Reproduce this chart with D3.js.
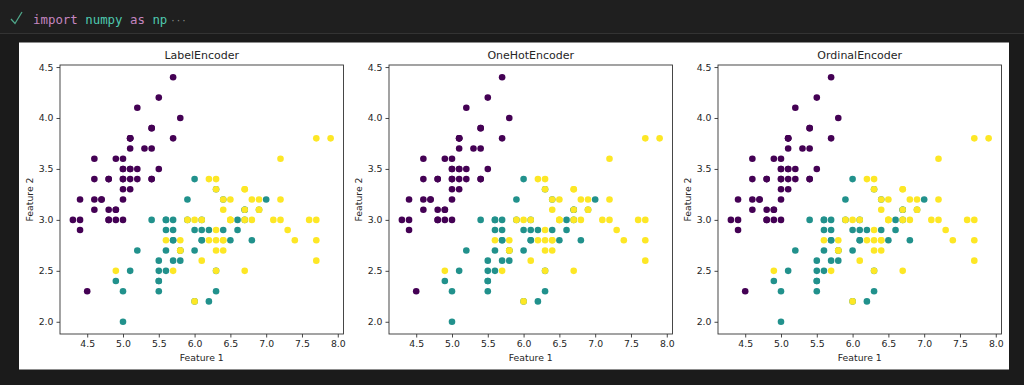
<!DOCTYPE html>
<html>
<head>
<meta charset="utf-8">
<script src="https://cdn.jsdelivr.net/npm/d3@7"></script>
<style>
  html, body { margin: 0; padding: 0; background: #1e1e1e; }
  svg { display: block; }
</style>
</head>
<body>
<svg id="chart" width="1024" height="385"></svg>
<script>
// Iris sepal length / sepal width, by class (0 setosa, 1 versicolor, 2 virginica)
const sepalLength = [
  5.1,4.9,4.7,4.6,5.0,5.4,4.6,5.0,4.4,4.9,5.4,4.8,4.8,4.3,5.8,5.7,5.4,5.1,5.7,5.1,5.4,5.1,4.6,5.1,4.8,5.0,5.0,5.2,5.2,4.7,4.8,5.4,5.2,5.5,4.9,5.0,5.5,4.9,4.4,5.1,5.0,4.5,4.4,5.0,5.1,4.8,5.1,4.6,5.3,5.0,
  7.0,6.4,6.9,5.5,6.5,5.7,6.3,4.9,6.6,5.2,5.0,5.9,6.0,6.1,5.6,6.7,5.6,5.8,6.2,5.6,5.9,6.1,6.3,6.1,6.4,6.6,6.8,6.7,6.0,5.7,5.5,5.5,5.8,6.0,5.4,6.0,6.7,6.3,5.6,5.5,5.5,6.1,5.8,5.0,5.6,5.7,5.7,6.2,5.1,5.7,
  6.3,5.8,7.1,6.3,6.5,7.6,4.9,7.3,6.7,7.2,6.5,6.4,6.8,5.7,5.8,6.4,6.5,7.7,7.7,6.0,6.9,5.6,7.7,6.3,6.7,7.2,6.2,6.1,6.4,7.2,7.4,7.9,6.4,6.3,6.1,7.7,6.3,6.4,6.0,6.9,6.7,6.9,5.8,6.8,6.7,6.7,6.3,6.5,6.2,5.9
];
const sepalWidth = [
  3.5,3.0,3.2,3.1,3.6,3.9,3.4,3.4,2.9,3.1,3.7,3.4,3.0,3.0,4.0,4.4,3.9,3.5,3.8,3.8,3.4,3.7,3.6,3.3,3.4,3.0,3.4,3.5,3.4,3.2,3.1,3.4,4.1,4.2,3.1,3.2,3.5,3.6,3.0,3.4,3.5,2.3,3.2,3.5,3.8,3.0,3.8,3.2,3.7,3.3,
  3.2,3.2,3.1,2.3,2.8,2.8,3.3,2.4,2.9,2.7,2.0,3.0,2.2,2.9,2.9,3.1,3.0,2.7,2.2,2.5,3.2,2.8,2.5,2.8,2.9,3.0,2.8,3.0,2.9,2.6,2.4,2.4,2.7,2.7,3.0,3.4,3.1,2.3,3.0,2.5,2.6,3.0,2.6,2.3,2.7,3.0,2.9,2.9,2.5,2.8,
  3.3,2.7,3.0,2.9,3.0,3.0,2.5,2.9,2.5,3.6,3.2,2.7,3.0,2.5,2.8,3.2,3.0,3.8,2.6,2.2,3.2,2.8,2.8,2.7,3.3,3.2,2.8,3.0,2.8,3.0,2.8,3.8,2.8,2.8,2.6,3.0,3.4,3.1,3.0,3.1,3.1,3.1,2.7,3.2,3.3,3.0,2.5,3.0,3.4,3.0
];
const classes = [
  0,0,0,0,0,0,0,0,0,0,0,0,0,0,0,0,0,0,0,0,0,0,0,0,0,0,0,0,0,0,0,0,0,0,0,0,0,0,0,0,0,0,0,0,0,0,0,0,0,0,
  1,1,1,1,1,1,1,1,1,1,1,1,1,1,1,1,1,1,1,1,1,1,1,1,1,1,1,1,1,1,1,1,1,1,1,1,1,1,1,1,1,1,1,1,1,1,1,1,1,1,
  2,2,2,2,2,2,2,2,2,2,2,2,2,2,2,2,2,2,2,2,2,2,2,2,2,2,2,2,2,2,2,2,2,2,2,2,2,2,2,2,2,2,2,2,2,2,2,2,2,2
];
const panelTitles = ["LabelEncoder", "OneHotEncoder", "OrdinalEncoder"];
const xTicks = [4.5,5.0,5.5,6.0,6.5,7.0,7.5,8.0];
const yTicks = [2.0,2.5,3.0,3.5,4.0,4.5];
const xLabel = "Feature 1";
const yLabel = "Feature 2";
const classColors = ["#440154", "#21918c", "#fde725"];

const svg = d3.select("#chart");

// notebook chrome
svg.append("rect").attr("x",0).attr("y",0).attr("width",1024).attr("height",385).attr("fill","#1b1b1b");
svg.append("rect").attr("x",0).attr("y",0).attr("width",1024).attr("height",33).attr("fill","#1f1f1f");
svg.append("line").attr("x1",0).attr("x2",1024).attr("y1",33.5).attr("y2",33.5).attr("stroke","#333").attr("stroke-width",1);
svg.append("path").attr("d","M11,19 L15,23.5 L22,12").attr("fill","none").attr("stroke","#4fa68a").attr("stroke-width",1.3);
const code = svg.append("text").attr("x",33).attr("y",23.5)
  .attr("font-family","'DejaVu Sans Mono', monospace").attr("font-size",12.4);
code.append("tspan").attr("fill","#c586c0").text("import ");
code.append("tspan").attr("fill","#4ec9b0").text("numpy ");
code.append("tspan").attr("fill","#c586c0").text("as ");
code.append("tspan").attr("fill","#4ec9b0").text("np");
code.append("tspan").attr("fill","#8a8a8a").attr("font-size",9).attr("dx",3).text("···");

// figure background
svg.append("rect").attr("x",19).attr("y",42.5).attr("width",990).attr("height",327).attr("fill","#ffffff");

const panelLefts = [60, 389, 718];
const panelW = 283.5, plotTop = 65, plotBottom = 334;
const font = "'DejaVu Sans', sans-serif";
const textColor = "#262626";

const data = sepalLength.map((x,i) => ({x, y: sepalWidth[i], c: classes[i]}));

panelTitles.forEach((title, p) => {
  const left = panelLefts[p];
  const x = d3.scaleLinear().domain([4.12, 8.08]).range([left, left + panelW]);
  const y = d3.scaleLinear().domain([1.88, 4.52]).range([plotBottom, plotTop]);
  const g = svg.append("g");

  g.selectAll("circle").data(data).join("circle")
    .attr("cx", d => x(d.x)).attr("cy", d => y(d.y)).attr("r", 3.3)
    .attr("fill", d => classColors[d.c]);

  g.append("rect").attr("x", left).attr("y", plotTop).attr("width", panelW).attr("height", plotBottom - plotTop)
    .attr("fill","none").attr("stroke","#333").attr("stroke-width",0.9);

  const xa = g.append("g").attr("transform", `translate(0,${plotBottom})`)
    .call(d3.axisBottom(x).tickValues(xTicks).tickFormat(d3.format(".1f")).tickSize(3.5).tickPadding(3));
  const ya = g.append("g").attr("transform", `translate(${left},0)`)
    .call(d3.axisLeft(y).tickValues(yTicks).tickFormat(d3.format(".1f")).tickSize(3.5).tickPadding(3));
  [xa, ya].forEach(a => {
    a.select(".domain").remove();
    a.selectAll("line").attr("stroke","#333").attr("stroke-width",0.9);
    a.selectAll("text").attr("font-family", font).attr("font-size", 9.3).attr("fill", textColor);
  });

  g.append("text").attr("x", left + panelW/2).attr("y", 59).attr("text-anchor","middle")
    .attr("font-family", font).attr("font-size", 11).attr("fill", textColor).text(title);
  g.append("text").attr("x", left + panelW/2).attr("y", 360.5).attr("text-anchor","middle")
    .attr("font-family", font).attr("font-size", 9.3).attr("fill", textColor).text(xLabel);
  g.append("text").attr("transform", `translate(${left - 27},${(plotTop+plotBottom)/2}) rotate(-90)`)
    .attr("text-anchor","middle").attr("font-family", font).attr("font-size", 9.3).attr("fill", textColor).text(yLabel);
});
</script>
</body>
</html>
